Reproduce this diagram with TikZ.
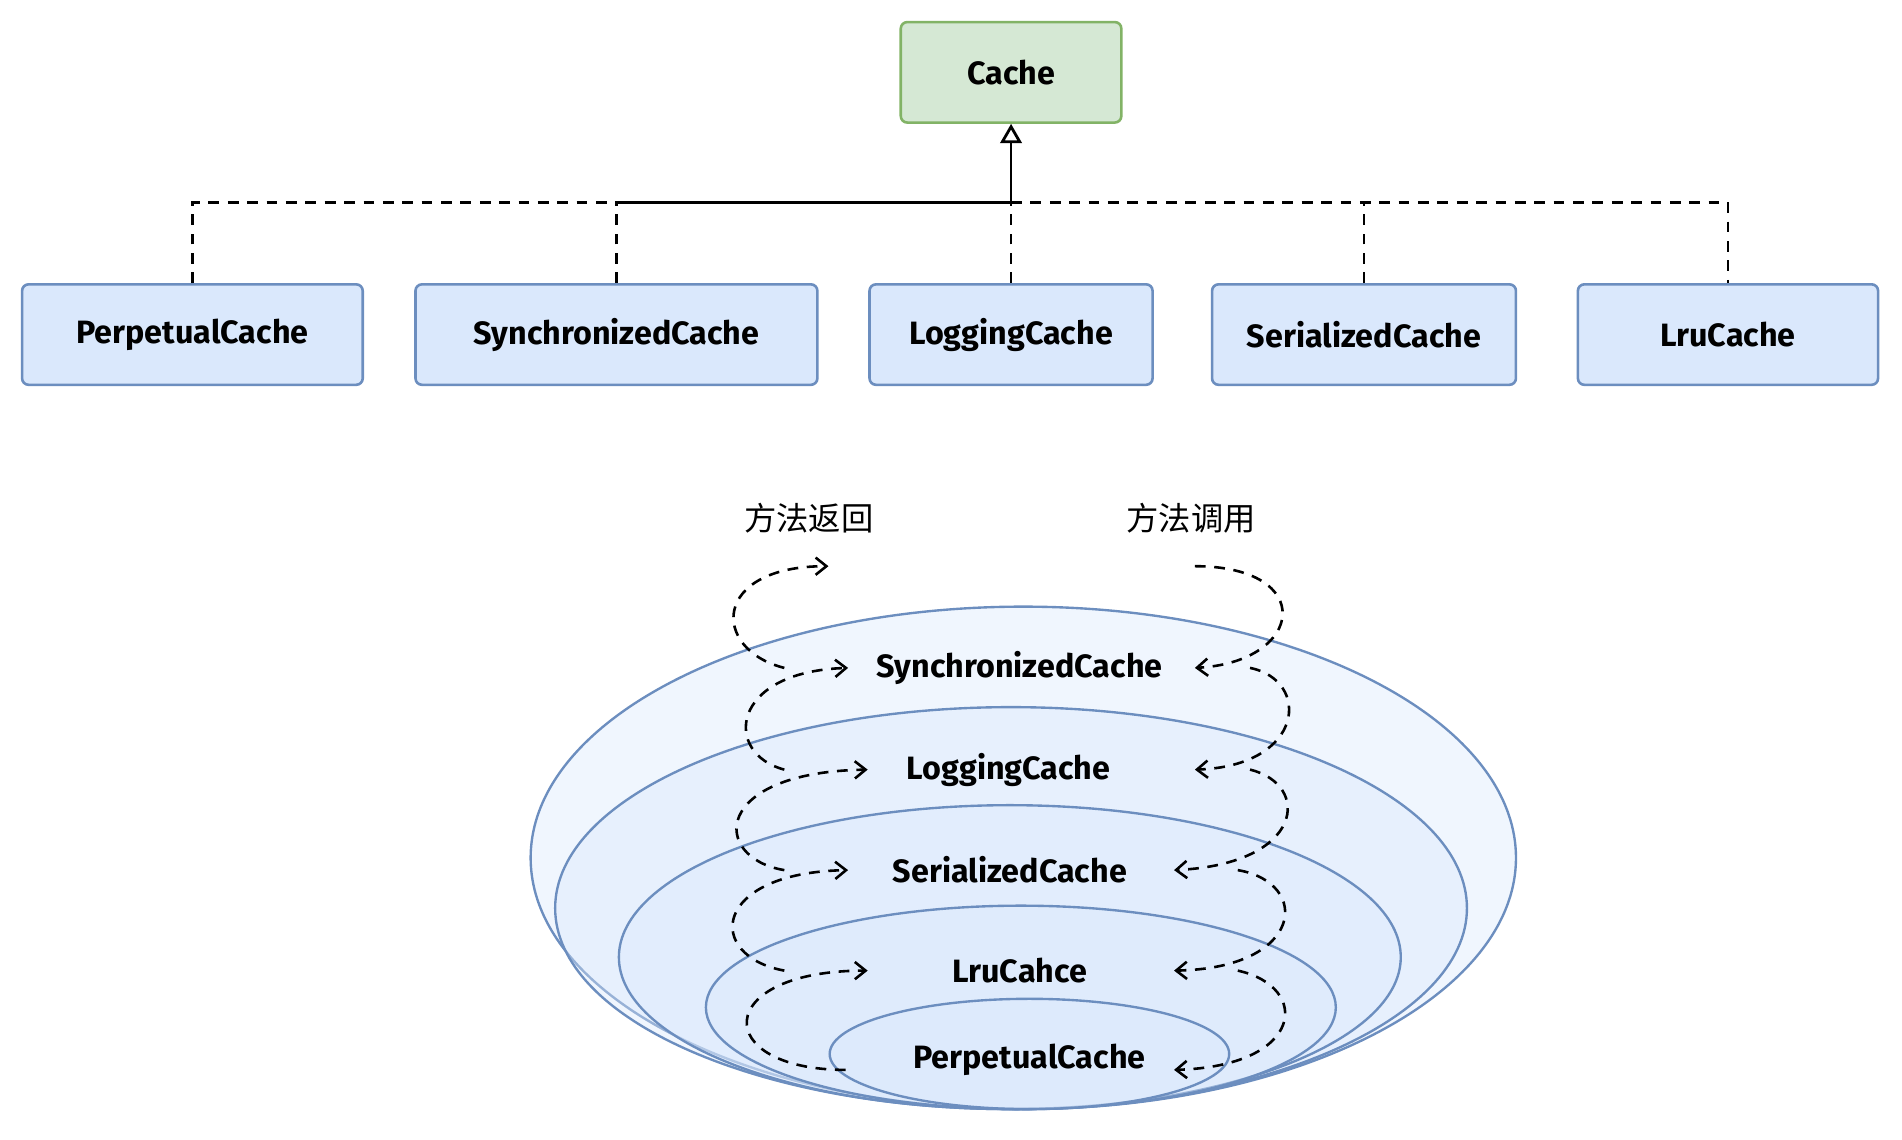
\documentclass[tikz,border=0pt]{standalone}
\usepackage{fontspec}
\setmainfont{Fira Sans}
\newfontfamily\cjk{Noto Sans CJK SC}
\usetikzlibrary{arrows.meta}
\definecolor{bfill}{HTML}{DAE8FC}\definecolor{bline}{HTML}{6C8EBF}
\definecolor{gfill}{HTML}{D5E8D4}\definecolor{gline}{HTML}{82B366}
\begin{document}
\begin{tikzpicture}[x=0.02cm,y=-0.02cm,
 box/.style={draw=bline,fill=bfill,line width=1.2pt,rounded corners=3pt,minimum height=1.64cm,font=\bfseries\fontsize{15}{18}\selectfont},
 lab/.style={font=\bfseries\fontsize{15}{18}\selectfont},
 dl/.style={dashed,line width=1.2pt,dash pattern=on 5pt off 4pt},
 ar/.style={dl,-{Straight Barb[length=5pt,width=8pt]}},
 ell/.style={draw=bline,line width=1.1pt,fill=bfill,fill opacity=0.4}]
\useasboundingbox (0,0) rectangle (1552,930);
\node[box,draw=gline,fill=gfill,minimum width=3.6cm] (cache) at (825,59) {Cache};
\node[box,minimum width=5.56cm] (pc) at (157,273) {PerpetualCache};
\node[box,minimum width=6.56cm] (sc) at (503,273) {SynchronizedCache};
\node[box,minimum width=4.62cm] (lc) at (825,273) {LoggingCache};
\node[box,minimum width=4.96cm] (se) at (1113,273) {SerializedCache};
\node[box,minimum width=4.9cm] (lr) at (1410,273) {LruCache};
\draw[line width=1.3pt] (503,165) -- (825,165);
\draw[line width=1.3pt,-{Triangle[open,length=9pt,width=10pt]}] (825,165) -- (cache.south);
\draw[dl] (pc.north) -- (157,165) -- (503,165);
\draw[dl] (sc.north) -- (503,165);
\draw[dl] (825,165) -- (1410,165) -- (lr.north);
\draw[dl] (lc.north) -- (825,165);
\draw[dl] (se.north) -- (1113,165);
\draw[ell] (835,700) ellipse (402 and 205);
\draw[ell] (825,741) ellipse (372 and 164);
\draw[ell] (824,781) ellipse (319 and 124);
\draw[ell] (833,822) ellipse (257 and 83);
\draw[ell] (840,860) ellipse (163 and 45);
\node[lab] (l1) at (832,545) {SynchronizedCache};
\node[lab] (l2) at (823,628) {LoggingCache};
\node[lab] (l3) at (824,710) {SerializedCache};
\node[lab] (l4) at (832,792) {LruCahce};
\node[lab] (l5) at (840,865) {PerpetualCache};
\node[font=\cjk\fontsize{15}{18}\selectfont] (t1) at (660,423) {方法返回};
\node[font=\cjk\fontsize{15}{18}\selectfont] (t2) at (972,423) {方法调用};
\coordinate (a0) at (690,873);
\coordinate (a1) at (708,792);
\coordinate (a2) at (692,710);
\coordinate (a3) at (708,628);
\coordinate (a4) at (692,545);
\coordinate (a5) at (676,462);
\draw[ar] (a0) .. controls (580,873) and (580,792) .. (a1);
\draw[ar] (640,792) .. controls (575,780) and (580,712) .. (a2);
\draw[ar] (640,710) .. controls (580,700) and (580,630) .. (a3);
\draw[ar] (640,628) .. controls (590,615) and (595,548) .. (a4);
\draw[ar] (640,545) .. controls (580,530) and (580,462) .. (a5);
\coordinate (b0) at (975,462);
\coordinate (b1) at (975,545);
\coordinate (b2) at (975,628);
\coordinate (b3) at (958,710);
\coordinate (b4) at (958,792);
\coordinate (b5) at (958,873);
\draw[ar] (b0) .. controls (1075,462) and (1065,540) .. (b1);
\draw[ar] (1020,545) .. controls (1070,555) and (1065,625) .. (b2);
\draw[ar] (1020,628) .. controls (1070,640) and (1065,705) .. (b3);
\draw[ar] (1010,710) .. controls (1070,720) and (1065,790) .. (b4);
\draw[ar] (1010,792) .. controls (1070,805) and (1065,870) .. (b5);
\end{tikzpicture}
\end{document}
